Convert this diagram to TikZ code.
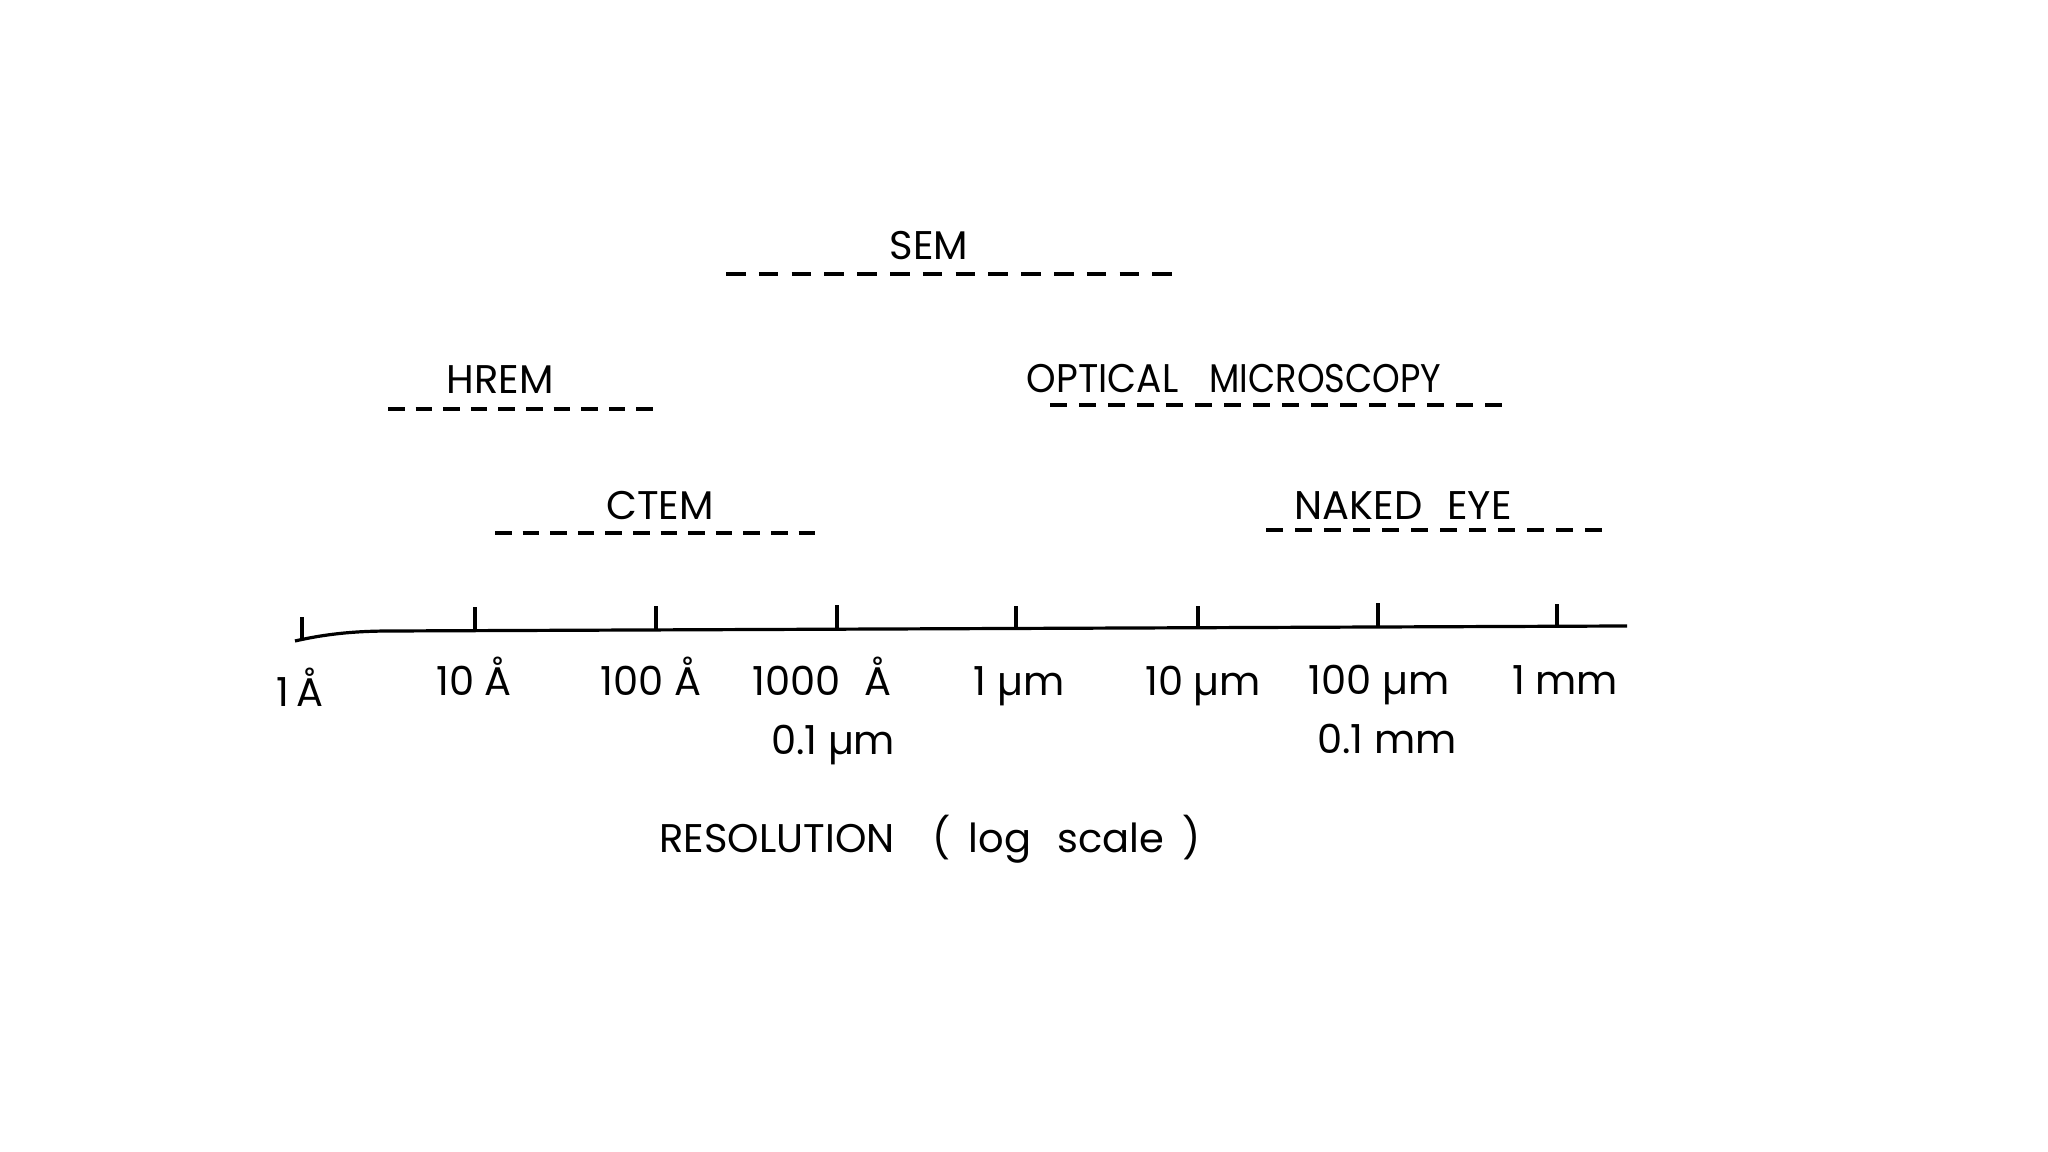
\documentclass[tikz,border=0pt]{standalone}
\usepackage{fontspec}
\setmainfont{Poppins}
\begin{document}
\begin{tikzpicture}[x=0.25pt,y=-0.25pt,
  lbl/.style={inner sep=0pt,anchor=base,font=\fontsize{10}{12}\selectfont},
  rangeline/.style={line width=1.05pt},
  axisline/.style={line width=0.8pt},
  tickline/.style={line width=0.8pt}]
\useasboundingbox[fill=white] (0,0) rectangle (2048,1152);
% ranges
\node[lbl] (sem) at (929,260) {SEM};
\coordinate (semA) at (726,274); \coordinate (semB) at (1172,274);
\draw[rangeline,dash pattern=on 4.9pt off 3.3pt] (semA) -- (semB);
\node[lbl] (hrem) at (500,394) {HREM};
\coordinate (hremA) at (388,409); \coordinate (hremB) at (654,409);
\draw[rangeline,dash pattern=on 4.15pt off 2.75pt] (hremA) -- (hremB);
\node[lbl] (opt) at (1234,393) {\scalebox{0.94}[1]{OPTICAL}\hspace{7.8pt}\scalebox{0.88}[1]{MICROSCOPY}};
\coordinate (optA) at (1050,405); \coordinate (optB) at (1505,405);
\draw[rangeline,dash pattern=on 4.35pt off 2.9pt] (optA) -- (optB);
\node[lbl] (ctem) at (660,520) {CTEM};
\coordinate (ctemA) at (495,533); \coordinate (ctemB) at (816,533);
\draw[rangeline,dash pattern=on 4.15pt off 2.75pt] (ctemA) -- (ctemB);
\node[lbl] (eye) at (1403,520) {NAKED\hspace{6.2pt}EYE};
\coordinate (eyeA) at (1266,530); \coordinate (eyeB) at (1603,530);
\draw[rangeline,dash pattern=on 4.35pt off 2.9pt] (eyeA) -- (eyeB);
% axis
\coordinate (ax0) at (295,641);
\coordinate (ax1) at (392,631);
\coordinate (ax2) at (1627,626);
\draw[axisline] (ax0) .. controls (330,633) and (360,631) .. (ax1) -- (ax2);
% ticks
\coordinate (t1) at (302,640); \coordinate (t1u) at (302,617);
\coordinate (t2) at (475,631); \coordinate (t2u) at (475,607);
\coordinate (t3) at (656,630); \coordinate (t3u) at (656,606);
\coordinate (t4) at (837,629); \coordinate (t4u) at (837,605);
\coordinate (t5) at (1016,629); \coordinate (t5u) at (1016,606);
\coordinate (t6) at (1198,628); \coordinate (t6u) at (1198,606);
\coordinate (t7) at (1378,627); \coordinate (t7u) at (1378,603);
\coordinate (t8) at (1557,627); \coordinate (t8u) at (1557,604);
\foreach \i in {1,...,8} \draw[tickline] (t\i) -- (t\i u);
% tick labels
\node[lbl] (l1) at (300,707) {1\,Å};
\node[lbl] (l2) at (474,696) {10 Å};
\node[lbl] (l3) at (651,696) {100 Å};
\node[lbl] (l4) at (822,696) {1000\hspace{6pt}Å};
\node[lbl] (l5) at (1019,696) {1 µm};
\node[lbl] (l6) at (1203,696) {10 µm};
\node[lbl] (l7) at (1379,695) {100 µm};
\node[lbl] (l8) at (1565,695) {1 mm};
\node[lbl] (l4b) at (833,755) {0.1 µm};
\node[lbl] (l7b) at (1387,754) {0.1 mm};
\node[lbl] (title) at (930,853) {RESOLUTION\hspace{9.5pt}(\hspace{4.5pt}log\hspace{6.5pt}scale\hspace{4.5pt})};
\end{tikzpicture}
\end{document}
